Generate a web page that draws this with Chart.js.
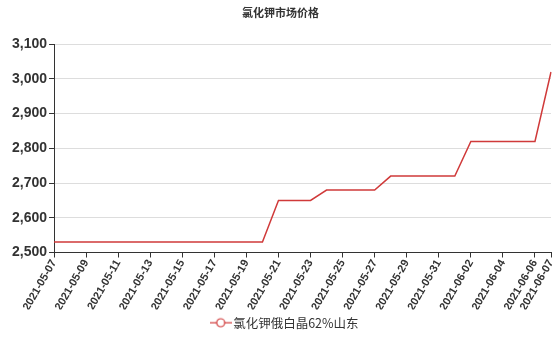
<!DOCTYPE html>
<html>
<head>
<meta charset="utf-8">
<script src="https://cdn.jsdelivr.net/npm/chart.js@4.4.0/dist/chart.umd.min.js"></script>
<style>
    html, body { margin: 0; padding: 0; background: #ffffff; }
    #chart { display: block; }
</style>
</head>
<body>
<canvas id="chart" width="554" height="347"></canvas>
<script>
// daily dates, 2021-05-07 .. 2021-06-07
const dates = [
    "2021-05-07", "2021-05-08", "2021-05-09", "2021-05-10", "2021-05-11", "2021-05-12",
    "2021-05-13", "2021-05-14", "2021-05-15", "2021-05-16", "2021-05-17", "2021-05-18",
    "2021-05-19", "2021-05-20", "2021-05-21", "2021-05-22", "2021-05-23", "2021-05-24",
    "2021-05-25", "2021-05-26", "2021-05-27", "2021-05-28", "2021-05-29", "2021-05-30",
    "2021-05-31", "2021-06-01", "2021-06-02", "2021-06-03", "2021-06-04", "2021-06-05",
    "2021-06-06", "2021-06-07"
];

const prices = [
    2530, 2530, 2530, 2530, 2530, 2530, 2530, 2530, 2530, 2530, 2530, 2530, 2530, 2530,
    2650, 2650, 2650,
    2680, 2680, 2680, 2680,
    2720, 2720, 2720, 2720, 2720,
    2820, 2820, 2820, 2820, 2820,
    3020
];

const seriesName = "氯化钾俄白晶62%山东";
const titleText = "氯化钾市场价格";
const lineColor = "#d03a3a";

function showTick(index) {
    return index % 2 === 0 || index === dates.length - 1;
}

// legend symbol: short line with a hollow circle
function legendSymbol() {
    const c = document.createElement("canvas");
    c.width = 22;
    c.height = 12;
    const g = c.getContext("2d");
    g.strokeStyle = lineColor;
    g.lineWidth = 1.2;
    g.beginPath();
    g.moveTo(0, 6);
    g.lineTo(22, 6);
    g.stroke();
    g.fillStyle = "#ffffff";
    g.beginPath();
    g.arc(11, 6, 4, 0, Math.PI * 2);
    g.fill();
    g.stroke();
    return c;
}

// nudge the legend a few px to the right, like the original
const legendShift = {
    id: "legendShift",
    afterLayout(chart) {
        chart.legend.left += 6;
        chart.legend.right += 6;
    }
};

const ctx = document.getElementById("chart");

const chart = new Chart(ctx, {
    type: "line",
    data: {
        labels: dates,
        datasets: [
            {
                label: seriesName,
                data: prices,
                borderColor: lineColor,
                backgroundColor: lineColor,
                borderWidth: 1.5,
                pointRadius: 0,
                tension: 0
            }
        ]
    },
    options: {
        responsive: false,
        animation: false,
        layout: {
            padding: { left: 10, right: 3, top: 0, bottom: 8 }
        },
        scales: {
            x: {
                offset: false,
                border: { color: "#333333", width: 1 },
                grid: {
                    drawOnChartArea: false,
                    drawTicks: true,
                    tickLength: 5,
                    color: function(context) {
                        return showTick(context.index) ? "#333333" : "rgba(0,0,0,0)";
                    }
                },
                ticks: {
                    autoSkip: false,
                    maxRotation: 60,
                    minRotation: 60,
                    padding: 0,
                    color: "#333333",
                    font: { family: "Liberation Sans, Arial, sans-serif", size: 11, weight: "bold" },
                    callback: function(value, index) {
                        return showTick(index) ? dates[index] : "";
                    }
                },
                afterFit: function(scale) {
                    scale.paddingRight = 0;
                    scale.paddingLeft = 0;
                    scale.height = 57;
                }
            },
            y: {
                min: 2500,
                max: 3100,
                border: { color: "#333333", width: 1 },
                grid: {
                    color: "#dddddd",
                    tickColor: "#333333",
                    tickLength: 5
                },
                ticks: {
                    stepSize: 100,
                    padding: 2,
                    color: "#333333",
                    font: { family: "Liberation Sans, Arial, sans-serif", size: 14, weight: "bold" },
                    callback: function(value) {
                        return value.toLocaleString("en-US");
                    }
                }
            }
        },
        plugins: {
            title: {
                display: true,
                text: titleText,
                color: "#333333",
                padding: { top: 6, bottom: 25 },
                font: { family: "Noto Sans CJK SC, sans-serif", size: 11, weight: "bold" }
            },
            legend: {
                display: true,
                position: "bottom",
                labels: {
                    usePointStyle: true,
                    pointStyle: legendSymbol(),
                    color: "#333333",
                    padding: 7,
                    font: { family: "Noto Sans CJK SC, sans-serif", size: 12.5 }
                }
            },
            tooltip: { enabled: false }
        }
    },
    plugins: [legendShift]
});
</script>
</body>
</html>
